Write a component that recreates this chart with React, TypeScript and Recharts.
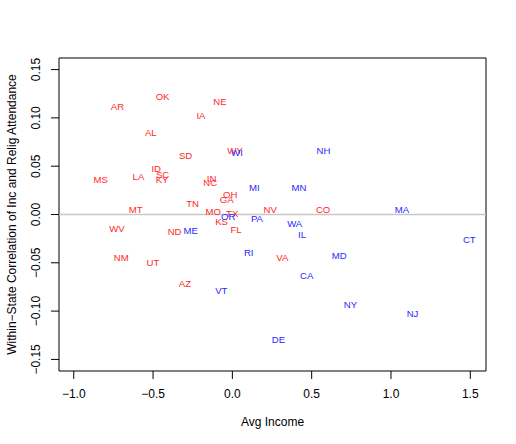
import React from 'react';
import { ScatterChart, Scatter, XAxis, YAxis, ReferenceLine, ReferenceArea } from 'recharts';

const states = ['OK','AR','NE','IA','AL','WY','WI','SD','ID','SC','KY','LA','MS','IN','NC','MI','OH','GA','TN','MT','MO','TX','NV','OR','PA','KS','FL','WV','ND','ME','RI','NM','UT','AZ','VT','DE','NH','MN','CO','MA','WA','IL','CT','VA','MD','CA','NY','NJ'];
const avgIncome = [-0.440,-0.724,-0.078,-0.198,-0.514,0.016,0.029,-0.295,-0.480,-0.440,-0.443,-0.592,-0.830,-0.131,-0.140,0.138,-0.013,-0.036,-0.251,-0.609,-0.121,-0.001,0.239,-0.026,0.155,-0.068,0.023,-0.727,-0.364,-0.263,0.103,-0.701,-0.501,-0.299,-0.070,0.290,0.574,0.420,0.572,1.069,0.393,0.439,1.494,0.315,0.673,0.469,0.744,1.136];
const incReligCorr = [0.1223,0.1119,0.1171,0.1026,0.0849,0.0666,0.0642,0.0611,0.0479,0.0410,0.0358,0.0393,0.0365,0.0376,0.0330,0.0282,0.0202,0.0158,0.0116,0.0054,0.0029,0.0012,0.0054,-0.0023,-0.0044,-0.0078,-0.0151,-0.0147,-0.0178,-0.0161,-0.0396,-0.0448,-0.0497,-0.0715,-0.0787,-0.1296,0.0659,0.0279,0.0054,0.0054,-0.0092,-0.0209,-0.0261,-0.0448,-0.0427,-0.0635,-0.0932,-0.1029];
const party = ['R','R','R','R','R','R','D','R','R','R','R','R','R','R','R','D','R','R','R','R','R','R','R','D','D','R','R','R','R','D','D','R','R','R','D','D','D','D','R','D','D','D','D','R','D','D','D','D'];

const xTicks = [-1, -0.5, 0, 0.5, 1, 1.5];
const yTicks = [-0.15, -0.1, -0.05, 0, 0.05, 0.1, 0.15];
const xDomain: [number, number] = [-1.093, 1.599];
const yDomain: [number, number] = [-0.162, 0.162];

const RED = '#ff2828';
const BLUE = '#2828ff';
const FONT = '"Liberation Sans", Arial, Helvetica, sans-serif';

const points = states.map((st, i) => ({ st, x: avgIncome[i], y: incReligCorr[i], p: party[i] }));
const redData = points.filter(d => d.p === 'R');
const blueData = points.filter(d => d.p === 'D');

const fmt = (v: number, d: number) => {
  const s = Math.abs(v).toFixed(d);
  return v < 0 ? '\u2212' + s : s;
};

const XTick = (props: any) => {
  const { x, y, payload } = props;
  return (
    <text x={x} y={y} dy="0.71em" textAnchor="middle" fontSize={12} fontFamily={FONT} fill="#000">
      {fmt(payload.value, 1)}
    </text>
  );
};

const YTick = (props: any) => {
  const { x, y, payload } = props;
  return (
    <text x={x} y={y} transform={`rotate(-90, ${x}, ${y})`} textAnchor="middle" fontSize={12} fontFamily={FONT} fill="#000">
      {fmt(payload.value, 2)}
    </text>
  );
};

const makeShape = (color: string) => (props: any) => {
  const { cx, cy, payload } = props;
  return (
    <text x={cx} y={cy} dy="0.36em" textAnchor="middle" fontSize={9.6} fontFamily={FONT} fill={color}>
      {payload.st}
    </text>
  );
};

const XTitle = (props: any) => {
  const vb = props.viewBox;
  return (
    <text x={vb.x + vb.width / 2} y={426} textAnchor="middle" fontSize={12} fontFamily={FONT} fill="#000">
      Avg Income
    </text>
  );
};

const YTitle = (props: any) => {
  const vb = props.viewBox;
  const cy = vb.y + vb.height / 2;
  return (
    <text x={16} y={cy} transform={`rotate(-90, 16, ${cy})`} textAnchor="middle" fontSize={12} fontFamily={FONT} fill="#000">
      Within−State Correlation of Inc and Relig Attendance
    </text>
  );
};

export default function App() {
  return (
    <div style={{ position: 'absolute', left: 0, top: 0, width: 516, height: 444, background: '#fff' }}>
      <ScatterChart width={516} height={444} margin={{ top: 58, right: 30, bottom: 0, left: 0 }}>
        <XAxis
          type="number"
          dataKey="x"
          domain={xDomain}
          ticks={xTicks}
          allowDataOverflow
          height={73}
          axisLine={false}
          tickSize={8}
          tickMargin={10}
          tickLine={{ stroke: '#000' }}
          tick={<XTick />}
          label={<XTitle />}
        />
        <YAxis
          type="number"
          dataKey="y"
          domain={yDomain}
          ticks={yTicks}
          allowDataOverflow
          width={59}
          axisLine={false}
          tickSize={8}
          tickMargin={11}
          tickLine={{ stroke: '#000' }}
          tick={<YTick />}
          label={<YTitle />}
        />
        <ReferenceLine y={0} stroke="#c8c8c8" strokeWidth={1.5} />
        <ReferenceArea x1={xDomain[0]} x2={xDomain[1]} y1={yDomain[0]} y2={yDomain[1]} fill="none" fillOpacity={0} stroke="#000" strokeWidth={1} />
        <Scatter data={redData} shape={makeShape(RED)} isAnimationActive={false} />
        <Scatter data={blueData} shape={makeShape(BLUE)} isAnimationActive={false} />
      </ScatterChart>
    </div>
  );
}
